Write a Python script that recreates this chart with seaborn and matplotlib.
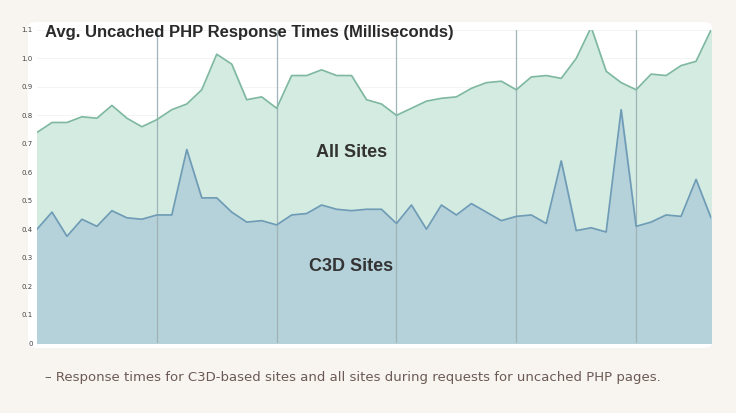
import matplotlib
matplotlib.use("Agg")
import matplotlib.pyplot as plt
import seaborn as sns
import numpy as np
from matplotlib.patches import FancyBboxPatch

all_sites = [0.74,0.775,0.775,0.795,0.79,0.835,0.79,0.76,0.785,0.82,0.84,0.89,1.015,0.98,0.855,0.865,
             0.825,0.94,0.94,0.96,0.94,0.94,0.855,0.84,0.80,0.825,0.85,0.86,0.865,0.895,0.915,0.92,
             0.89,0.935,0.94,0.93,1.0,1.11,0.955,0.915,0.89,0.945,0.94,0.975,0.99,1.1]
c3d_sites = [0.40,0.46,0.375,0.435,0.41,0.465,0.44,0.435,0.45,0.45,0.68,0.51,0.51,0.46,0.425,0.43,
             0.415,0.45,0.455,0.485,0.47,0.465,0.47,0.47,0.42,0.485,0.40,0.485,0.45,0.49,0.46,0.43,
             0.445,0.45,0.42,0.64,0.395,0.405,0.39,0.82,0.41,0.425,0.45,0.445,0.575,0.44]
yticks = [0,0.1,0.2,0.3,0.4,0.5,0.6,0.7,0.8,0.9,1.0,1.1]
ytick_labels = ["0","0.1","0.2","0.3","0.4","0.5","0.6","0.7","0.8","0.9","1.0","1.1"]
vlines = [8,16,24,32,40]

sns.set_style("white")
W, H = 736, 413
fig = plt.figure(figsize=(W/100, H/100), dpi=100)
fig.patch.set_facecolor("#f8f4f0")
panel = FancyBboxPatch((28/W, 1-348/H), (712-28)/W, (348-22)/H,
                       boxstyle="round,pad=0,rounding_size=0.012", transform=fig.transFigure,
                       facecolor="white", edgecolor="none", zorder=-5)
fig.patches.append(panel)

ax = fig.add_axes([37/W, 1-343/H, (711-37)/W, (343-30)/H])
ax.set_zorder(1)
ax.set_facecolor("none")
x = np.arange(len(all_sites))
ax.fill_between(x, 0, all_sites, color="#d3ebe1", zorder=1)
ax.fill_between(x, 0, c3d_sites, color="#b5d1d9", zorder=2)
sns.lineplot(x=x, y=all_sites, ax=ax, color="#7fb8a0", lw=1.2, zorder=3)
sns.lineplot(x=x, y=c3d_sites, ax=ax, color="#6e9bb5", lw=1.2, zorder=3)
for v in vlines:
    ax.axvline(v, color="#9fb3b8", lw=0.9, zorder=2.5)
for t in yticks[1:]:
    ax.axhline(t, color="#eef2f0", lw=0.5, zorder=0.5)
ax.set_xlim(0, len(all_sites)-1)
ax.set_ylim(0, 1.1)
ax.set_xticks([])
ax.set_yticks(yticks)
ax.set_yticklabels(ytick_labels, fontsize=5, color="#444444")
ax.tick_params(axis="y", length=0, pad=3)
for s in ax.spines.values():
    s.set_visible(False)

fig.text(45/W, 1-33/H, "Avg. Uncached PHP Response Times (Milliseconds)", fontsize=12,
         color="#2a2a2a", va="center", ha="left", fontfamily="Liberation Sans", fontweight="bold", zorder=5)
ax.text(21, 0.67, "All Sites", fontsize=13, color="#333333", ha="center", va="center",
        fontfamily="Liberation Sans", fontweight="bold", zorder=5)
ax.text(21, 0.27, "C3D Sites", fontsize=13, color="#333333", ha="center", va="center",
        fontfamily="Liberation Sans", fontweight="bold", zorder=5)
fig.text(45/W, 1-378/H, "– Response times for C3D-based sites and all sites during requests for uncached PHP pages.",
         fontsize=9.5, color="#6b5a55", va="center", ha="left")
fig.savefig("out.png", dpi=100, facecolor=fig.get_facecolor())
